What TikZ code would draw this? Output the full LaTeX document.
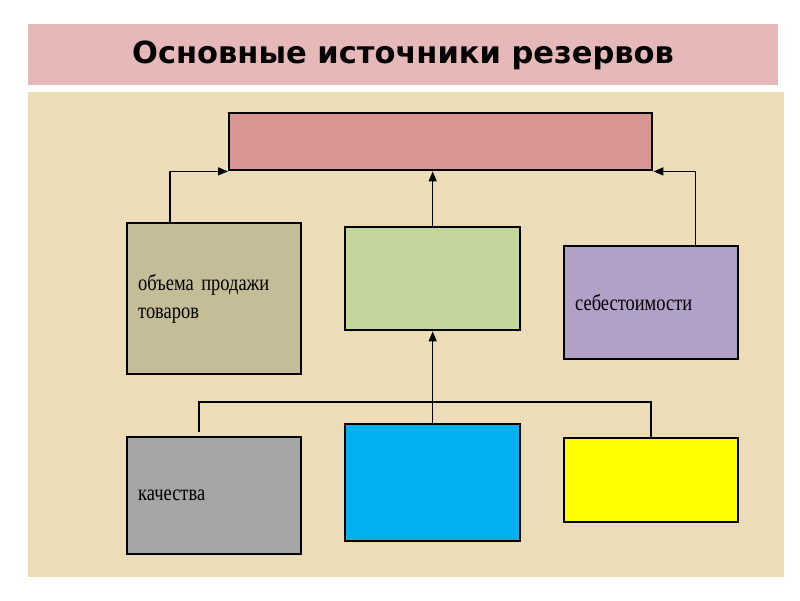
\documentclass[tikz,border=0pt]{standalone}
\usepackage{fontspec}
\setmainfont{Liberation Serif}
\newfontfamily\titlefont{DejaVu Sans}
\newfontfamily\boxfont[FakeStretch=0.82]{Liberation Serif}
\usetikzlibrary{arrows.meta,positioning}
\definecolor{bandpink}{HTML}{E6B9B8}
\definecolor{parchment}{HTML}{ECDDB8}
\definecolor{toppink}{HTML}{D99594}
\definecolor{khaki}{HTML}{C4BD97}
\definecolor{sage}{HTML}{C3D69B}
\definecolor{lilac}{HTML}{B2A1C7}
\definecolor{greybox}{HTML}{A5A5A5}
\definecolor{skyblue}{HTML}{00B0F0}
\definecolor{brightyellow}{HTML}{FFFF00}
\begin{document}
\begin{tikzpicture}[x=1pt, y=-1pt, box/.style={draw, line width=2.4pt, anchor=north west, align=left, inner xsep=11pt, font=\boxfont\fontsize{22.5}{28}\selectfont}, link/.style={line width=1.3pt}, arr/.style={-{Triangle[length=10pt, width=8pt]}, line width=1.3pt}]
    \useasboundingbox (0,0) rectangle (800,600);
    \fill[white] (0,0) rectangle (800,600);
    \fill[bandpink] (28,24) rectangle (778,85);
    \fill[parchment] (28,92) rectangle (784,577);
    \node[font=\titlefont\bfseries\fontsize{30.5}{34}\selectfont] (title) at (403,55) {Основные источники резервов};
    \node[box, fill=toppink, minimum width=423pt, minimum height=57pt] (T) at (228,112) {};
    \node[box, fill=khaki, minimum width=174pt, minimum height=151pt, text width=152pt] (L) at (126,222) {объема продажи\\товаров};
    \node[box, fill=sage, minimum width=175pt, minimum height=103pt] (M) at (344,226) {};
    \node[box, fill=lilac, minimum width=174pt, minimum height=113pt, text width=152pt] (R) at (563,245) {себестоимости};
    \node[box, fill=greybox, minimum width=174pt, minimum height=117pt, text width=152pt] (G) at (126,436) {качества};
    \node[box, fill=skyblue, minimum width=175pt, minimum height=117pt] (B) at (344,423) {};
    \node[box, fill=brightyellow, minimum width=174pt, minimum height=84pt] (Y) at (563,437) {};
    \coordinate (bus) at (431.5,402);
    \draw[arr] ([xshift=44pt]L.north west) |- (T.south west);
    \draw[arr] ([xshift=-44pt]R.north east) |- (T.south east);
    \draw[arr] (M.north) -- (M.north |- T.south);
    \draw[arr] (B.north) -- (M.south);
    \draw[link] ([xshift=73pt, yshift=4pt]G.north west) |- (bus) -| ([xshift=88pt]Y.north west);
  \end{tikzpicture}
\end{document}
